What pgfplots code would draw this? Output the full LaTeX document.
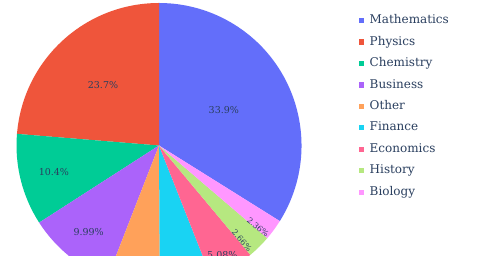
\documentclass[border=0pt]{standalone}
\usepackage{pgfplots}
\pgfplotsset{compat=1.18}
\usepackage{pgfplotstable}
\usepackage{fontspec}
\setmainfont{DejaVu Serif}

\definecolor{pie0}{HTML}{636EFA}
\definecolor{pie1}{HTML}{EF553B}
\definecolor{pie2}{HTML}{00CC96}
\definecolor{pie3}{HTML}{AB63FA}
\definecolor{pie4}{HTML}{FFA15A}
\definecolor{pie5}{HTML}{19D3F3}
\definecolor{pie6}{HTML}{FF6692}
\definecolor{pie7}{HTML}{B6E880}
\definecolor{pie8}{HTML}{FF97FF}
\definecolor{txt}{HTML}{2A3F5F}

% share (%), label radius (fraction of R), label angle offset, radial text flag, label shown, label font size
\pgfplotstableread{
name value rfrac dang rot show fs
Mathematics 33.9 0.52 0 0 1 9.5
Physics 23.7 0.58 0 0 1 9.5
Chemistry 10.4 0.76 0 0 1 9.5
Business 9.99 0.78 0 0 1 9.5
Other 6.0 0.86 0 0 0 9.5
Finance 5.91 0.86 0 0 0 9.5
Economics 5.08 0.89 -0.8 0 1 9.5
History 2.66 0.885 -3.6 1 1 8
Biology 2.36 0.90 -3.2 1 1 8
}\piedata

\begin{document}
\begin{tikzpicture}
\path[use as bounding box] (0,0) rectangle (480pt,256pt);
\clip (0,0) rectangle (480pt,256pt);
\fill[white] (0,0) rectangle (480pt,256pt);

\pgfplotstablegetelem{0}{value}\of\piedata
\pgfmathsetmacro\piecur{90-3.6*\pgfplotsretval}
\pgfplotsforeachungrouped \i in {0,...,8}{%
  \pgfplotstablegetelem{\i}{value}\of\piedata \let\pieval\pgfplotsretval
  \pgfplotstablegetelem{\i}{rfrac}\of\piedata \let\pierf\pgfplotsretval
  \pgfplotstablegetelem{\i}{dang}\of\piedata \let\piedang\pgfplotsretval
  \pgfplotstablegetelem{\i}{rot}\of\piedata \let\piero\pgfplotsretval
  \pgfplotstablegetelem{\i}{show}\of\piedata \let\pieshow\pgfplotsretval
  \pgfplotstablegetelem{\i}{fs}\of\piedata \let\piefs\pgfplotsretval
  \pgfmathsetmacro\pieend{\piecur+3.6*\pieval}%
  \pgfmathsetmacro\piemid{(\piecur+\pieend)/2+\piedang}%
  \pgfmathsetmacro\pielx{\pierf*cos(\piemid)}%
  \pgfmathsetmacro\piely{\pierf*sin(\piemid)}%
  \pgfmathsetmacro\pierr{\piero*(\piemid-360)}%
  \expandafter\xdef\csname ps\i\endcsname{\piecur}%
  \expandafter\xdef\csname pe\i\endcsname{\pieend}%
  \expandafter\xdef\csname plx\i\endcsname{\pielx}%
  \expandafter\xdef\csname ply\i\endcsname{\piely}%
  \expandafter\xdef\csname prot\i\endcsname{\pierr}%
  \expandafter\xdef\csname pfs\i\endcsname{\piefs}%
  \ifnum\pieshow=1
    \expandafter\xdef\csname pv\i\endcsname{\pieval\noexpand\%}%
  \else
    \expandafter\xdef\csname pv\i\endcsname{}%
  \fi
  \global\let\piecur\pieend
}

\begin{axis}[
  at={(159pt,110.5pt)}, anchor=center,
  x=142.5pt, y=142.5pt,
  xmin=-1, xmax=1, ymin=-1, ymax=1,
  hide axis, clip=false,
  legend image code/.code={\fill (0pt,-2.6pt) rectangle (5.2pt,2.6pt);},
  legend style={at={(axis description cs:1.2,0.958)}, anchor=north west,
    draw=none, fill=none, inner sep=0pt, outer sep=0pt,
    font=\fontsize{12}{12}\selectfont, text=txt,
    row sep=10.15pt, column sep=6pt,
    nodes={inner sep=0pt, text height=8.7pt, text depth=2.6pt, anchor=west}},
  legend cell align=left,
]
\pgfplotsinvokeforeach{0,...,8}{
  \fill[fill=pie#1] (axis cs:0,0) -- (axis cs:{cos(\csname ps#1\endcsname)},{sin(\csname ps#1\endcsname)})
     arc[start angle=\csname ps#1\endcsname, end angle=\csname pe#1\endcsname, radius=142.5pt] -- cycle;
}
\pgfplotsinvokeforeach{0,...,8}{
  \node[font=\fontsize{\csname pfs#1\endcsname}{\csname pfs#1\endcsname}\selectfont, text=txt, inner sep=0pt,
        rotate=\csname prot#1\endcsname]
     at (axis cs:\csname plx#1\endcsname,\csname ply#1\endcsname) {\csname pv#1\endcsname};
}
\addlegendimage{fill=pie0, draw=none}
\addlegendimage{fill=pie1, draw=none}
\addlegendimage{fill=pie2, draw=none}
\addlegendimage{fill=pie3, draw=none}
\addlegendimage{fill=pie4, draw=none}
\addlegendimage{fill=pie5, draw=none}
\addlegendimage{fill=pie6, draw=none}
\addlegendimage{fill=pie7, draw=none}
\addlegendimage{fill=pie8, draw=none}
\legend{Mathematics, Physics, Chemistry, Business, Other, Finance, Economics, History, Biology}
\end{axis}
\end{tikzpicture}
\end{document}
